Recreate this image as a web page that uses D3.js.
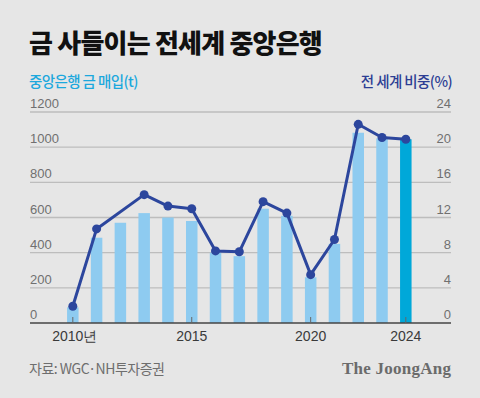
<html>

<body>
    <svg id='viz'></svg>
</body>
<style>
    body {
        margin: 0;
        background: #e6e6e6;
    }

    svg {
        display: block;
    }

    .tick-label {
        fill: #707070;
        font-family: 'Liberation Sans', Arial, sans-serif;
        font-size: 13px;
    }
</style>
<script src='https://d3js.org/d3.v7.min.js'></script>
<script>
    var width = 480;
    var height = 398;

    // data
    var years = [2010, 2011, 2012, 2013, 2014, 2015, 2016, 2017, 2018, 2019, 2020, 2021, 2022, 2023, 2024];
    var purchases = [89, 485, 570, 625, 600, 580, 400, 380, 650, 610, 260, 450, 1082, 1050, 1045];
    var shares = [1.9, 10.7, null, 14.6, 13.3, 13.0, 8.2, 8.1, 13.8, 12.5, 5.5, 9.5, 22.6, 21.1, 20.9];
    var leftTicks = [0, 200, 400, 600, 800, 1000, 1200];
    var rightTicks = [0, 4, 8, 12, 16, 20, 24];
    var yearTicks = [2010, 2015, 2020, 2024];
    var yearLabels = ['2010년', '2015', '2020', '2024'];

    // plot box (window.top is read-only, so no bare "top")
    var plotL = 30, plotR = 451, plotT = 112, plotB = 323;

    var x = d3.scaleLinear().domain([2008.2, 2025.9]).range([plotL, plotR]);
    var yL = d3.scaleLinear().domain([0, 1200]).range([plotB, plotT]);
    var yR = d3.scaleLinear().domain([0, 24]).range([plotB, plotT]);

    var svg = d3.select('#viz').attr('width', width).attr('height', height);

    svg.append('rect').attr('width', width).attr('height', height).attr('fill', '#e6e6e6');

    // title
    svg.append('text')
        .attr('x', 29).attr('y', 53)
        .style('font-family', "'Noto Sans CJK KR', sans-serif")
        .style('font-weight', 900)
        .style('font-size', '26px')
        .style('letter-spacing', '-0.8px')
        .attr('fill', '#111')
        .text('금 사들이는 전세계 중앙은행');

    svg.append('text')
        .attr('x', 29).attr('y', 87)
        .style('font-family', "'Noto Sans CJK KR', sans-serif")
        .style('font-weight', 500)
        .style('font-size', '14.5px')
        .style('letter-spacing', '-0.6px')
        .attr('fill', '#1ca8dd')
        .text('중앙은행 금 매입(t)');

    svg.append('text')
        .attr('x', 452).attr('y', 87)
        .attr('text-anchor', 'end')
        .style('font-family', "'Noto Sans CJK KR', sans-serif")
        .style('font-weight', 500)
        .style('font-size', '14.5px')
        .style('letter-spacing', '-0.6px')
        .attr('fill', '#2d3e94')
        .text('전 세계 비중(%)');

    // grid
    svg.append('g').selectAll('line')
        .data(leftTicks.slice(1))
        .enter().append('line')
        .attr('x1', plotL).attr('x2', plotR)
        .attr('y1', function (d) { return yL(d); })
        .attr('y2', function (d) { return yL(d); })
        .attr('stroke', '#bdbdbd')
        .attr('stroke-width', 1.3);

    svg.append('g').selectAll('text')
        .data(leftTicks)
        .enter().append('text')
        .attr('class', 'tick-label')
        .attr('x', plotL)
        .attr('y', function (d) { return yL(d) - 4; })
        .text(function (d) { return d; });

    svg.append('g').selectAll('text')
        .data(rightTicks)
        .enter().append('text')
        .attr('class', 'tick-label')
        .attr('x', plotR)
        .attr('text-anchor', 'end')
        .attr('y', function (d) { return yR(d) - 4; })
        .text(function (d) { return d; });

    // bars
    var barW = 11.5;
    svg.append('g').selectAll('rect')
        .data(years)
        .enter().append('rect')
        .attr('x', function (d) { return x(d) - barW / 2; })
        .attr('width', barW)
        .attr('y', function (d, i) { return yL(purchases[i]); })
        .attr('height', function (d, i) { return plotB - yL(purchases[i]); })
        .attr('fill', function (d, i) { return i == years.length - 1 ? '#00a8d9' : '#8ecbf0'; });

    // axis + year ticks
    svg.append('line')
        .attr('x1', plotL).attr('x2', plotR)
        .attr('y1', plotB).attr('y2', plotB)
        .attr('stroke', '#444').attr('stroke-width', 1.5);

    svg.append('g').selectAll('line')
        .data(yearTicks)
        .enter().append('line')
        .attr('x1', function (d) { return x(d); })
        .attr('x2', function (d) { return x(d); })
        .attr('y1', plotB).attr('y2', plotB - 6)
        .attr('stroke', '#666').attr('stroke-width', 1);

    svg.append('g').selectAll('text')
        .data(yearTicks)
        .enter().append('text')
        .attr('class', 'tick-label')
        .style('font-size', '14px')
        .style('fill', '#3a3a3a')
        .attr('text-anchor', 'middle')
        .attr('x', function (d, i) { return x(d) + (i == 0 ? 2 : 0); })
        .attr('y', 341)
        .text(function (d, i) { return yearLabels[i]; });

    // share line (2012 has no point)
    var pts = years.map(function (d, i) { return { year: d, v: shares[i] }; })
        .filter(function (d) { return d.v != null; });

    var line = d3.line()
        .x(function (d) { return x(d.year); })
        .y(function (d) { return yR(d.v); });

    svg.append('path')
        .datum(pts)
        .attr('d', line)
        .attr('fill', 'none')
        .attr('stroke', '#2c469d')
        .attr('stroke-width', 3)
        .attr('stroke-linejoin', 'round');

    svg.append('g').selectAll('circle')
        .data(pts)
        .enter().append('circle')
        .attr('cx', function (d) { return x(d.year); })
        .attr('cy', function (d) { return yR(d.v); })
        .attr('r', 4.5)
        .attr('fill', '#2c469d');

    // footer
    svg.append('text')
        .attr('x', 29).attr('y', 374)
        .style('font-family', "'Noto Sans CJK KR', sans-serif")
        .style('font-size', '14px')
        .style('letter-spacing', '-0.5px')
        .attr('fill', '#6e6e6e')
        .text('자료: WGC·NH투자증권');

    svg.append('text')
        .attr('x', 451).attr('y', 374)
        .attr('text-anchor', 'end')
        .style('font-family', "'Liberation Serif', serif")
        .style('font-weight', 'bold')
        .style('font-size', '17px')
        .attr('textLength', 109)
        .attr('fill', '#6b6b6b')
        .text('The JoongAng');
</script>

</html>
